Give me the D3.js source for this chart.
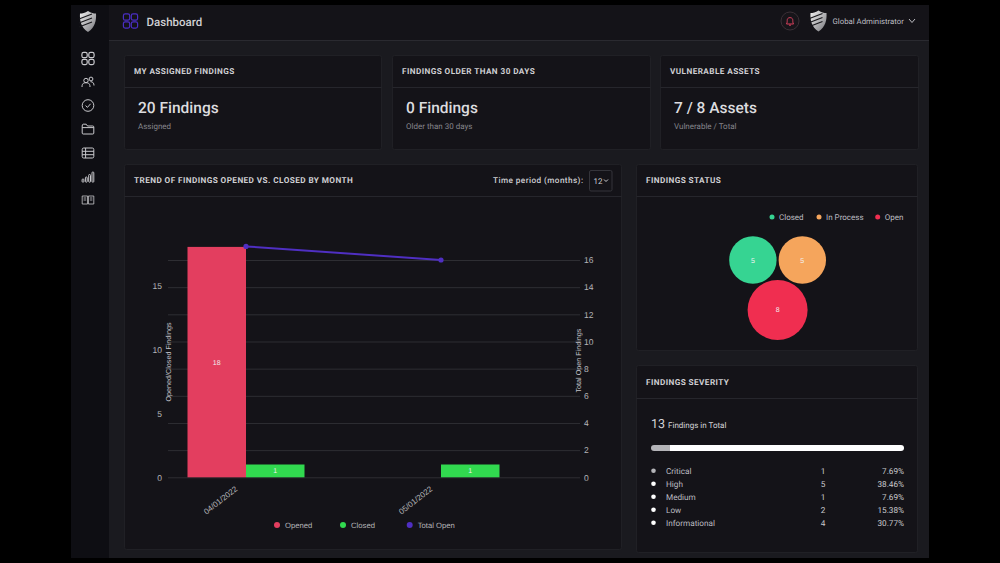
<!DOCTYPE html>
<html>
<head>
<meta charset="utf-8">
<title>Dashboard</title>
<script src="https://cdn.jsdelivr.net/npm/d3@7"></script>
<style>
  html, body { margin: 0; padding: 0; background: #000; overflow: hidden; }
  svg { display: block; text-rendering: geometricPrecision; }
  text { font-family: Roboto, "Noto Sans", sans-serif; }
  .chart-text text, text.chart-text { font-family: "Liberation Sans", Arial, sans-serif; }
  .head { font-size: 8.2px; font-weight: 700; letter-spacing: 0.42px; fill: #cfcfd3; }
</style>
</head>
<body>
<svg id="page" width="1000" height="563"></svg>
<script>
// summary cards
const summaryTitles = ["MY ASSIGNED FINDINGS", "FINDINGS OLDER THAN 30 DAYS", "VULNERABLE ASSETS"];
const summaryValues = ["20 Findings", "0 Findings", "7 / 8 Assets"];
const summaryNotes = ["Assigned", "Older than 30 days", "Vulnerable / Total"];

// trend chart
const months = ["04/01/2022", "05/01/2022"];
const barSeries = ["Opened", "Closed"];
const opened = [18, 0];
const closed = [1, 1];
const totalOpen = [17, 16];
const leftTicks = [0, 5, 10, 15];
const rightTicks = [0, 2, 4, 6, 8, 10, 12, 14, 16];

// status bubbles
const statusNames = ["Closed", "In Process", "Open"];
const statusValues = [5, 5, 8];
const statusColors = ["#36d492", "#f5a55c", "#f02e50"];

// severity
const severityNames = ["Critical", "High", "Medium", "Low", "Informational"];
const severityCounts = [1, 5, 1, 2, 4];
const severityPercents = ["7.69%", "38.46%", "7.69%", "15.38%", "30.77%"];
const severityColors = ["#b4b4b8", "#ffffff", "#ffffff", "#ffffff", "#ffffff"];

const svg = d3.select("#page");
const cardFill = "#141318";
const lineCol = "#26262c";

svg.append("rect").attr("width", 1000).attr("height", 563).attr("fill", "#000");
svg.append("rect").attr("x", 71).attr("y", 5).attr("width", 858).attr("height", 553).attr("fill", "#1a1a1f");
svg.append("rect").attr("x", 71).attr("y", 5).attr("width", 38).attr("height", 553).attr("fill", "#0e0e13");
svg.append("rect").attr("x", 109).attr("y", 5).attr("width", 820).attr("height", 35).attr("fill", "#141318");
svg.append("line").attr("x1", 109).attr("x2", 929).attr("y1", 40.5).attr("y2", 40.5).attr("stroke", "#2a2a30");

const defs = svg.append("defs");
const shieldGrad = defs.append("linearGradient").attr("id", "shieldGrad")
  .attr("x1", "0%").attr("x2", "100%").attr("y1", "0%").attr("y2", "100%");
shieldGrad.append("stop").attr("offset", "0%").attr("stop-color", "#f2f2f2");
shieldGrad.append("stop").attr("offset", "100%").attr("stop-color", "#77777c");

function shield(cx, cy) {
  const g = svg.append("g").attr("transform", `translate(${cx},${cy})`);
  g.append("path")
    .attr("d", "M0,-10.5 C3,-8.5 5.5,-8 8,-8 C8.5,-1 7,6 0,10.5 C-7,6 -8.5,-1 -8,-8 C-5.5,-8 -3,-8.5 0,-10.5Z")
    .attr("fill", "url(#shieldGrad)");
  [-4.5, -0.5, 3.5].forEach(dy => {
    g.append("path").attr("d", `M-9,${dy + 2} L4,${dy - 3}`)
      .attr("stroke", "#17171b").attr("stroke-width", 1.2);
  });
}

function gridIcon(cx, cy, size, color) {
  const g = svg.append("g").attr("transform", `translate(${cx},${cy})`)
    .attr("fill", "none").attr("stroke", color).attr("stroke-width", 1.2);
  const s = size / 2 - 0.7;
  [[-1, -1], [1, -1], [-1, 1], [1, 1]].forEach(([a, b]) => {
    g.append("rect").attr("x", a < 0 ? -s - 0.8 : 0.8).attr("y", b < 0 ? -s - 0.8 : 0.8)
      .attr("width", s).attr("height", s).attr("rx", 1.8);
  });
}

// sidebar
shield(88, 21.5);
gridIcon(88, 58.5, 12, "#c9c9cd");
function icon(cy) {
  return svg.append("g").attr("transform", `translate(88,${cy})`)
    .attr("fill", "none").attr("stroke", "#c9c9cd").attr("stroke-width", 1);
}
const people = icon(82);
people.append("circle").attr("cx", -2).attr("cy", -1.5).attr("r", 2.2);
people.append("circle").attr("cx", 3).attr("cy", -3).attr("r", 1.9);
people.append("path").attr("d", "M-6,5 C-6,1 -4,0.8 -2,0.8 C0,0.8 2,1 2,5 M2.5,-0.3 C5,-0.3 6,1.2 6,3.5");
const check = icon(105.5);
check.append("circle").attr("r", 5.8);
check.append("path").attr("d", "M-2.4,0 L-0.6,1.9 L2.6,-1.7");
icon(129).append("path").attr("d", "M-5.8,-3 V4 Q-5.8,5 -4.8,5 H4.8 Q5.8,5 5.8,4 V-2 Q5.8,-3 4.8,-3 H-0.5 L-1.8,-4.8 H-4.8 Q-5.8,-4.8 -5.8,-3 Z M-5.8,-1.4 H5.8");
const table = icon(153);
table.append("rect").attr("x", -5.8).attr("y", -5).attr("width", 11.6).attr("height", 10).attr("rx", 1.5);
table.append("path").attr("d", "M-5.8,-1.7 H5.8 M-5.8,1.7 H5.8 M-2.4,-5 V5");
const bars = icon(177);
[[-5, 2], [-1.7, 0], [1.6, -2.5], [4.9, -5]].forEach(([x, y]) => {
  bars.append("rect").attr("x", x - 0.9).attr("y", y).attr("width", 1.8).attr("height", 5.2 - y).attr("rx", 0.8);
});
const book = icon(200);
book.append("path").attr("d", "M-5.8,-4 H-0.4 V4 H-5.8 Z M0.4,-4 H5.8 V4 H0.4 Z M-4.4,-2 H-1.8 M-4.4,0 H-1.8 M1.8,-2 H4.4 M1.8,0 H4.4").attr("stroke-width", 0.8);

// top bar
gridIcon(130.5, 21, 14, "#4a2ec4");
svg.append("text").attr("x", 146.5).attr("y", 25.5).attr("font-size", 11.5).attr("font-weight", 500)
  .attr("fill", "#cfcfd3").text("Dashboard");
svg.append("circle").attr("cx", 790).attr("cy", 21).attr("r", 9).attr("fill", "#17151a").attr("stroke", "#3a3036");
svg.append("path").attr("d", "M786.5,24 C787.5,22.5 787,21 787.3,19.5 C787.7,17 792.3,17 792.7,19.5 C793,21 792.5,22.5 793.5,24 Z M789,25.2 H791")
  .attr("fill", "none").attr("stroke", "#d8415d").attr("stroke-width", 1);
shield(818.5, 21);
svg.append("text").attr("x", 832.5).attr("y", 24).attr("font-size", 7.8).attr("fill", "#bdbdc2").text("Global Administrator");
svg.append("path").attr("d", "M909,19 L912,22.5 L915,19").attr("fill", "none").attr("stroke", "#bdbdc2");

function card(x, y, w, h, divider, title) {
  svg.append("rect").attr("x", x).attr("y", y).attr("width", w).attr("height", h).attr("rx", 2)
    .attr("fill", cardFill).attr("stroke", "#202025");
  svg.append("line").attr("x1", x).attr("x2", x + w).attr("y1", divider + 0.5).attr("y2", divider + 0.5).attr("stroke", lineCol);
  svg.append("text").attr("class", "head").attr("x", x + 9.5).attr("y", (y + divider) / 2 + 3).text(title);
}

// summary row
const summaryX = [124.5, 392.5, 660.5];
const summaryW = [257, 258, 258];
summaryTitles.forEach((title, i) => {
  card(summaryX[i], 55.5, summaryW[i], 94, 87, title);
  svg.append("text").attr("x", summaryX[i] + 13.5).attr("y", 113).attr("font-size", 15.5).attr("font-weight", 500)
    .attr("fill", "#dcdcdf").text(summaryValues[i]);
  svg.append("text").attr("x", summaryX[i] + 13.5).attr("y", 129).attr("font-size", 8).attr("fill", "#85858b").text(summaryNotes[i]);
});

// trend chart card
card(124.5, 164.5, 497, 385, 196, "TREND OF FINDINGS OPENED VS. CLOSED BY MONTH");
svg.append("text").attr("class", "head").attr("x", 583.5).attr("y", 183).attr("text-anchor", "end")
  .style("font-weight", 500).text("Time period (months):");
svg.append("rect").attr("x", 589.5).attr("y", 170.5).attr("width", 22.5).attr("height", 20.5).attr("rx", 1.5)
  .attr("fill", "none").attr("stroke", "#34343a");
svg.append("text").attr("x", 593.5).attr("y", 184).attr("font-size", 8).attr("fill", "#cfcfd3").text("12");
svg.append("path").attr("d", "M604,179.5 L606,181.5 L608,179.5").attr("fill", "none").attr("stroke", "#cfcfd3");

const yBars = d3.scaleLinear().domain([0, 18]).range([477.3, 246.9]);
const yLine = d3.scaleLinear().domain([0, 16]).range([477.3, 260]);
const x0 = d3.scaleBand().domain(months).range([148.5, 538.5]);
const x1 = d3.scaleBand().domain(barSeries).range([0.2 * x0.bandwidth(), 0.8 * x0.bandwidth()]);
const seriesColor = d3.scaleOrdinal().domain([...barSeries, "Total Open"]).range(["#e33e5f", "#31d94f", "#4f2fc2"]);

const chart = svg.append("g").attr("class", "chart-text");

const rightAxis = chart.append("g").attr("transform", "translate(580,0)")
  .call(d3.axisRight(yLine).tickValues(rightTicks).tickSize(-412).tickPadding(4));
rightAxis.select(".domain").remove();
rightAxis.selectAll("line").attr("stroke", "#2e2e33");
rightAxis.selectAll("text").attr("font-size", 8.5).attr("fill", "#b5b5b9").attr("x", 4)
  .style("font-family", "'Liberation Sans', Arial, sans-serif");

const leftAxis = chart.append("g").attr("transform", "translate(168,0)")
  .call(d3.axisLeft(yBars).tickValues(leftTicks).tickSize(0).tickPadding(6));
leftAxis.select(".domain").remove();
leftAxis.selectAll("text").attr("font-size", 8.5).attr("fill", "#b5b5b9")
  .style("font-family", "'Liberation Sans', Arial, sans-serif");

[["Opened", opened], ["Closed", closed]].forEach(([name, values]) => {
  const group = chart.append("g");
  months.forEach((m, i) => {
    if (!values[i]) return;
    group.append("rect")
      .attr("x", x0(m) + x1(name))
      .attr("width", x1.bandwidth())
      .attr("y", yBars(values[i]))
      .attr("height", yBars(0) - yBars(values[i]))
      .attr("fill", seriesColor(name));
    group.append("text")
      .attr("x", x0(m) + x1(name) + x1.bandwidth() / 2)
      .attr("y", (yBars(values[i]) + yBars(0)) / 2 + 2.5)
      .attr("text-anchor", "middle").attr("font-size", 7).attr("fill", "#eee")
      .text(values[i]);
  });
});

const monthCenter = m => x0(m) + x0.bandwidth() / 2;
const trend = d3.line().x((d, i) => monthCenter(months[i])).y(d => yLine(d));
chart.append("path").datum(totalOpen).attr("d", trend).attr("fill", "none")
  .attr("stroke", seriesColor("Total Open")).attr("stroke-width", 2);
chart.selectAll(".pt").data(totalOpen).join("circle").attr("class", "pt")
  .attr("cx", (d, i) => monthCenter(months[i])).attr("cy", d => yLine(d)).attr("r", 2.6)
  .attr("fill", seriesColor("Total Open"));

months.forEach(m => {
  chart.append("text")
    .attr("transform", `translate(${monthCenter(m) - 8},${490}) rotate(-38)`)
    .attr("text-anchor", "end").attr("font-size", 8).attr("fill", "#b5b5b9").text(m);
});

chart.append("text").attr("transform", "translate(171,362) rotate(-90)").attr("text-anchor", "middle")
  .attr("font-size", 7.2).attr("fill", "#c4c4c8").text("Opened/Closed Findings");
chart.append("text").attr("transform", "translate(580.5,360.5) rotate(-90)").attr("text-anchor", "middle")
  .attr("font-size", 7.2).attr("fill", "#c4c4c8").text("Total Open Findings");

const legendNames = [...barSeries, "Total Open"];
const legendDotX = [277, 343, 409.7];
legendNames.forEach((name, i) => {
  chart.append("circle").attr("cx", legendDotX[i]).attr("cy", 525).attr("r", 3).attr("fill", seriesColor(name));
  chart.append("text").attr("x", legendDotX[i] + 8).attr("y", 528).attr("font-size", 7.7).attr("fill", "#b5b5b9").text(name);
});

// findings status card
card(636.5, 164.5, 281, 186, 196, "FINDINGS STATUS");
const rScale = d3.scaleSqrt().domain([0, d3.max(statusValues)]).range([0, 30]);
const bubbles = statusValues.map((v, i) => ({ i, v, r: rScale(v) + 1 }));
d3.packSiblings(bubbles);
const bubbleX = 777.6 - (bubbles[0].x + bubbles[1].x) / 2;
const flip = bubbles[2].y > bubbles[0].y ? 1 : -1;
const bubbleY = y => 260 + flip * (y - bubbles[0].y);
// packSiblings puts the first circle on the right, so mirror it
const mirrorX = x => 2 * 777.6 - (bubbleX + x);
bubbles.forEach(b => {
  const cx = bubbles[0].x > bubbles[1].x ? mirrorX(b.x) : bubbleX + b.x;
  svg.append("circle").attr("cx", cx).attr("cy", bubbleY(b.y)).attr("r", b.r - 1).attr("fill", statusColors[b.i]);
  svg.append("text").attr("class", "chart-text").attr("x", cx).attr("y", bubbleY(b.y) + 2.5)
    .attr("text-anchor", "middle").attr("font-size", 7).attr("fill", "#f2f2f2").text(b.v);
});
const statusLegendX = [772, 819, 877.7];
statusNames.forEach((name, i) => {
  svg.append("circle").attr("cx", statusLegendX[i]).attr("cy", 217).attr("r", 2.5).attr("fill", statusColors[i]);
  svg.append("text").attr("x", statusLegendX[i] + 7).attr("y", 220).attr("font-size", 8).attr("fill", "#bdbdc2").text(name);
});

// findings severity card
card(636.5, 365.5, 281, 187, 398, "FINDINGS SEVERITY");
const totalFindings = d3.sum(severityCounts);
const totalLabel = svg.append("text").attr("x", 651).attr("y", 428).attr("fill", "#d6d6da");
totalLabel.append("tspan").attr("font-size", 12.5).text(totalFindings);
totalLabel.append("tspan").attr("font-size", 8).attr("dx", 3).text("Findings in Total");

const sevX = d3.scaleLinear().domain([0, totalFindings]).range([651, 904]);
const clipBar = defs.append("clipPath").attr("id", "sevClip");
clipBar.append("rect").attr("x", sevX(0)).attr("y", 445).attr("width", sevX(totalFindings) - sevX(0)).attr("height", 6).attr("rx", 3);
const sevBar = svg.append("g").attr("clip-path", "url(#sevClip)");
let running = 0;
severityCounts.forEach((count, i) => {
  sevBar.append("rect").attr("x", sevX(running)).attr("y", 445)
    .attr("width", sevX(running + count) - sevX(running)).attr("height", 6)
    .attr("shape-rendering", "crispEdges").attr("fill", severityColors[i]);
  running += count;
});
severityNames.forEach((name, i) => {
  const y = 470.7 + i * 13;
  svg.append("circle").attr("cx", 653.5).attr("cy", y).attr("r", 2.3).attr("fill", severityColors[i]);
  svg.append("text").attr("x", 666).attr("y", y + 3).attr("font-size", 8.2).attr("fill", "#bdbdc2").text(name);
  svg.append("text").attr("x", 823).attr("y", y + 3).attr("text-anchor", "middle").attr("font-size", 8.2).attr("fill", "#c9c9cd").text(severityCounts[i]);
  svg.append("text").attr("x", 904).attr("y", y + 3).attr("text-anchor", "end").attr("font-size", 8.2).attr("fill", "#c9c9cd").text(severityPercents[i]);
});
</script>
</body>
</html>
